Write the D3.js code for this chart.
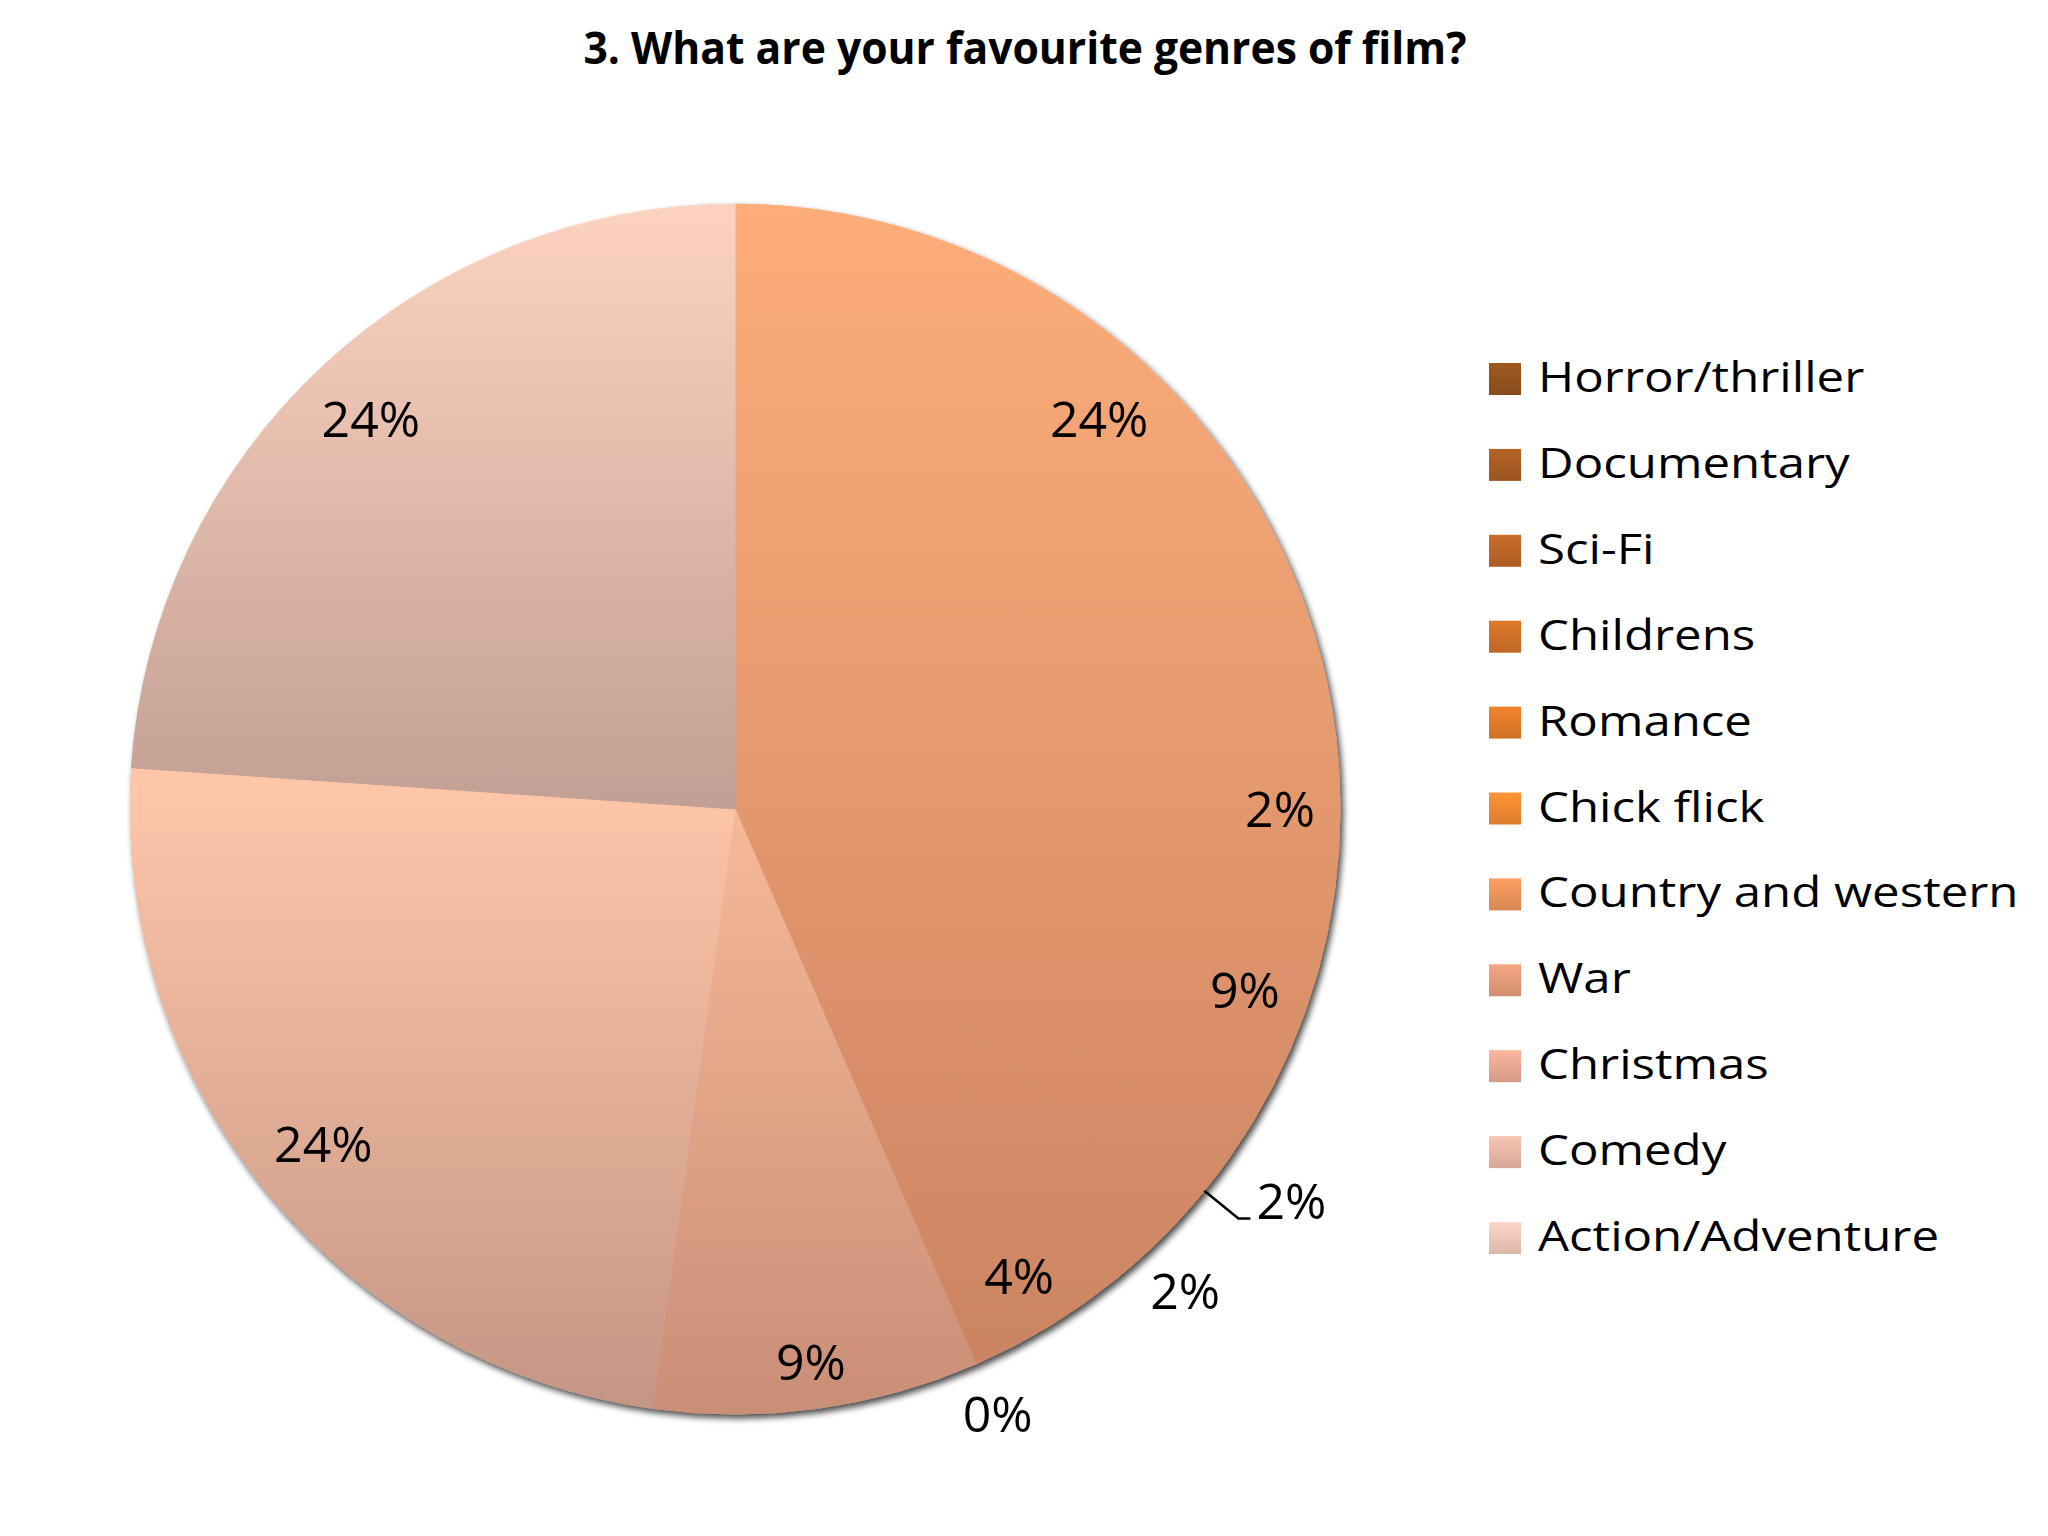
<!DOCTYPE html>
<html>
<head>
<meta charset="utf-8">
<script src="https://cdn.jsdelivr.net/npm/d3@7"></script>
<style>
  html, body { margin: 0; padding: 0; background: #ffffff; }
  svg { display: block; }
</style>
</head>
<body>
<script>
// Survey answers: number of respondents per genre (46 in total)
const categories = [
  "Horror/thriller", "Documentary", "Sci-Fi", "Childrens", "Romance",
  "Chick flick", "Country and western", "War", "Christmas", "Comedy",
  "Action/Adventure"
];
const counts = [11, 1, 4, 1, 1, 2, 0, 4, 11, 11, 0];
const title = "3. What are your favourite genres of film?";

// Chart dimensions
const width = 2048;
const height = 1536;
const cx = 735;
const cy = 809;
const radius = 605;

// Legend swatch colours (dark brown to pale pink)
const legendColors = [
  "#94531f", "#a95d23", "#bb6628", "#cf7127", "#e27c2b", "#ef8a32",
  "#ec945c", "#e39b79", "#e8aa92", "#e9b7a5", "#eec7b9"
];

// Slice fills as seen in the pie: [offset top, colour top, offset bottom, colour bottom]
// offsets run from the top (0) to the bottom (1) of the pie
const warm = [0, "#fcad79", 1, "#c98262"];
const sliceFills = [
  warm, warm, warm, warm, warm, warm, warm,
  [0.5, "#f6b998", 1, "#c98e76"],
  [0.48, "#fec6a9", 1, "#c59584"],
  [0, "#fcd3c0", 0.5, "#c29f94"],
  [0, "#fcd3c0", 0.5, "#c29f94"]
];

// How the data labels are placed (Excel "best fit")
const labelPlacement = {
  "Childrens": "leader",
  "Romance": "outside",
  "Country and western": "outside",
  "Action/Adventure": "none"
};

const data = categories.map((name, i) => ({ name, count: counts[i] }));
const total = d3.sum(counts);
const pct = d3.format(".0%");

const svg = d3.select("body")
  .append("svg")
  .attr("width", width)
  .attr("height", height)
  .attr("viewBox", [0, 0, width, height]);

const defs = svg.append("defs");

// Soft shadow under the pie
const shadow = defs.append("filter")
  .attr("id", "pie-shadow")
  .attr("x", "-10%").attr("y", "-10%")
  .attr("width", "120%").attr("height", "120%");
shadow.append("feDropShadow")
  .attr("dx", 3).attr("dy", 4)
  .attr("stdDeviation", 3)
  .attr("flood-color", "#000")
  .attr("flood-opacity", 0.7);

// One vertical gradient per slice, spanning the pie height (pie-local coords)
sliceFills.forEach((f, i) => {
  const g = defs.append("linearGradient")
    .attr("id", `slice-${i}`)
    .attr("gradientUnits", "userSpaceOnUse")
    .attr("x1", 0).attr("x2", 0)
    .attr("y1", -radius).attr("y2", radius);
  g.append("stop").attr("offset", f[0]).attr("stop-color", f[1]);
  g.append("stop").attr("offset", f[2]).attr("stop-color", f[3]);
});

// Legend swatch gradients
legendColors.forEach((c, i) => {
  const g = defs.append("linearGradient")
    .attr("id", `swatch-${i}`)
    .attr("x1", 0).attr("x2", 0).attr("y1", 0).attr("y2", 1);
  g.append("stop").attr("offset", 0).attr("stop-color", d3.color(c).brighter(0.2));
  g.append("stop").attr("offset", 1).attr("stop-color", d3.color(c).darker(0.25));
});

// Title
svg.append("text")
  .attr("x", 1025)
  .attr("y", 64)
  .attr("text-anchor", "middle")
  .attr("textLength", 883)
  .attr("lengthAdjust", "spacingAndGlyphs")
  .style("font-family", "'Open Sans', 'Noto Sans', sans-serif")
  .style("font-weight", 700)
  .style("font-size", "45px")
  .attr("fill", "#000")
  .text(title);

// Pie layout, clockwise from 12 o'clock, in data order
const pie = d3.pie()
  .sort(null)
  .value(d => d.count);
const arcs = pie(data);

const arc = d3.arc().innerRadius(0).outerRadius(radius);
const arcOutside = d3.arc().innerRadius(radius * 1.09).outerRadius(radius * 1.09);
const arcEdge = d3.arc().innerRadius(radius).outerRadius(radius);
const arcElbow = d3.arc().innerRadius(radius + 44).outerRadius(radius + 44);

const pieG = svg.append("g")
  .attr("transform", `translate(${cx},${cy})`);

pieG.append("g")
  .attr("filter", "url(#pie-shadow)")
  .selectAll("path")
  .data(arcs)
  .join("path")
  .attr("fill", (d, i) => `url(#slice-${i})`)
  .attr("stroke", (d, i) => d.data.count > 0 ? `url(#slice-${i})` : "none")
  .attr("stroke-width", 1)
  .attr("d", arc);

// Data labels
const labelFont = "'Open Sans', 'Noto Sans', sans-serif";
const labelG = pieG.append("g")
  .style("font-family", labelFont)
  .style("font-size", "50px")
  .attr("fill", "#000");

arcs.forEach(d => {
  const mode = labelPlacement[d.data.name] || "inside";
  if (mode === "none") return;
  const text = pct(d.data.count / total);
  if (mode === "leader") {
    const p1 = arcEdge.centroid(d);
    const p2 = arcElbow.centroid(d);
    const p3 = [p2[0] + 12, p2[1]];
    labelG.append("path")
      .attr("d", d3.line()([p1, p2, p3]))
      .attr("fill", "none")
      .attr("stroke", "#000")
      .attr("stroke-width", 2.5);
    labelG.append("text")
      .attr("x", p3[0] + 6)
      .attr("y", p3[1])
      .attr("text-anchor", "start")
      .text(text);
  } else if (mode === "outside") {
    const p = arcOutside.centroid(d);
    labelG.append("text")
      .attr("x", p[0])
      .attr("y", p[1])
      .attr("dy", "0.36em")
      .attr("text-anchor", "middle")
      .text(text);
  } else {
    // inside: keep the label box a fixed gap inside the rim
    const t = labelG.append("text")
      .attr("dy", "0.36em")
      .attr("text-anchor", "middle")
      .text(text);
    const w = t.node().getComputedTextLength();
    const h = 35;
    const a = (d.startAngle + d.endAngle) / 2;
    const ext = (w / 2) * Math.abs(Math.sin(a)) + (h / 2) * Math.abs(Math.cos(a));
    const r = radius - 25 - ext;
    t.attr("x", r * Math.sin(a)).attr("y", -r * Math.cos(a));
  }
});

// Legend
const legendX = 1489;
const legendY = 379;
const rowStep = 85.9;
const swatch = 32;

const legend = svg.append("g")
  .attr("transform", `translate(${legendX},${legendY})`);

const rows = legend.selectAll("g")
  .data(categories)
  .join("g")
  .attr("transform", (d, i) => `translate(0,${i * rowStep})`);

rows.append("rect")
  .attr("x", 0)
  .attr("y", -swatch / 2)
  .attr("width", swatch)
  .attr("height", swatch)
  .attr("fill", (d, i) => `url(#swatch-${i})`);

rows.append("text")
  .attr("x", 49)
  .attr("y", 13)
  .style("font-family", labelFont)
  .style("font-size", "42px")
  .attr("fill", "#000")
  .text(d => d)
  .each(function() {
    // the legend text in the original is a little wider than the font
    const w = this.getComputedTextLength();
    d3.select(this)
      .attr("textLength", w * 1.17)
      .attr("lengthAdjust", "spacingAndGlyphs");
  });
</script>
</body>
</html>
